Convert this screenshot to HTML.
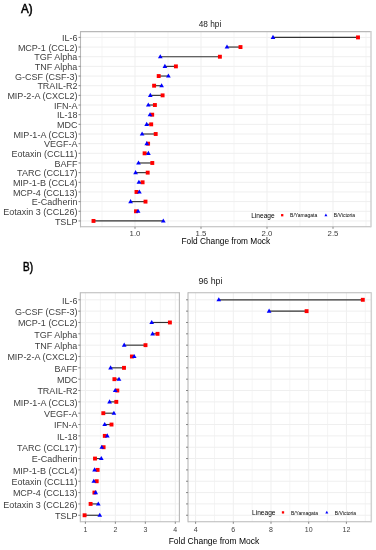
<!DOCTYPE html>
<html><head><meta charset="utf-8"><title>Fold change dumbbell chart</title><style>html,body{margin:0;padding:0;background:#fff;width:376px;height:550px;overflow:hidden}svg{filter:blur(0.35px)}svg text{font-family:"Liberation Sans", sans-serif}</style></head><body>
<svg width="376" height="550" viewBox="0 0 376 550" style='display:block;font-family:"Liberation Sans", sans-serif'>
<rect width="376" height="550" fill="#fff"/>
<text x="20.90" y="13.40" font-size="13.2" text-anchor="start" fill="#000" font-weight="normal" textLength="11.6" lengthAdjust="spacingAndGlyphs" stroke="#000" stroke-width="0.55">A)</text>
<text x="210.00" y="26.50" font-size="8.3" text-anchor="middle" fill="#1a1a1a" font-weight="normal" >48 hpi</text>
<rect x="80.5" y="31.6" width="290.5" height="195.20000000000002" fill="#fff"/>
<line x1="102.00" y1="31.60" x2="102.00" y2="226.80" stroke="#f3f3f3" stroke-width="0.8"/>
<line x1="168.00" y1="31.60" x2="168.00" y2="226.80" stroke="#f3f3f3" stroke-width="0.8"/>
<line x1="234.00" y1="31.60" x2="234.00" y2="226.80" stroke="#f3f3f3" stroke-width="0.8"/>
<line x1="300.00" y1="31.60" x2="300.00" y2="226.80" stroke="#f3f3f3" stroke-width="0.8"/>
<line x1="366.00" y1="31.60" x2="366.00" y2="226.80" stroke="#f3f3f3" stroke-width="0.8"/>
<line x1="135.00" y1="31.60" x2="135.00" y2="226.80" stroke="#efefef" stroke-width="1.0"/>
<line x1="201.00" y1="31.60" x2="201.00" y2="226.80" stroke="#efefef" stroke-width="1.0"/>
<line x1="267.00" y1="31.60" x2="267.00" y2="226.80" stroke="#efefef" stroke-width="1.0"/>
<line x1="333.00" y1="31.60" x2="333.00" y2="226.80" stroke="#efefef" stroke-width="1.0"/>
<line x1="80.50" y1="37.40" x2="371.00" y2="37.40" stroke="#efefef" stroke-width="1.0"/>
<line x1="80.50" y1="47.06" x2="371.00" y2="47.06" stroke="#efefef" stroke-width="1.0"/>
<line x1="80.50" y1="56.72" x2="371.00" y2="56.72" stroke="#efefef" stroke-width="1.0"/>
<line x1="80.50" y1="66.38" x2="371.00" y2="66.38" stroke="#efefef" stroke-width="1.0"/>
<line x1="80.50" y1="76.04" x2="371.00" y2="76.04" stroke="#efefef" stroke-width="1.0"/>
<line x1="80.50" y1="85.70" x2="371.00" y2="85.70" stroke="#efefef" stroke-width="1.0"/>
<line x1="80.50" y1="95.36" x2="371.00" y2="95.36" stroke="#efefef" stroke-width="1.0"/>
<line x1="80.50" y1="105.02" x2="371.00" y2="105.02" stroke="#efefef" stroke-width="1.0"/>
<line x1="80.50" y1="114.68" x2="371.00" y2="114.68" stroke="#efefef" stroke-width="1.0"/>
<line x1="80.50" y1="124.34" x2="371.00" y2="124.34" stroke="#efefef" stroke-width="1.0"/>
<line x1="80.50" y1="134.00" x2="371.00" y2="134.00" stroke="#efefef" stroke-width="1.0"/>
<line x1="80.50" y1="143.66" x2="371.00" y2="143.66" stroke="#efefef" stroke-width="1.0"/>
<line x1="80.50" y1="153.32" x2="371.00" y2="153.32" stroke="#efefef" stroke-width="1.0"/>
<line x1="80.50" y1="162.98" x2="371.00" y2="162.98" stroke="#efefef" stroke-width="1.0"/>
<line x1="80.50" y1="172.64" x2="371.00" y2="172.64" stroke="#efefef" stroke-width="1.0"/>
<line x1="80.50" y1="182.30" x2="371.00" y2="182.30" stroke="#efefef" stroke-width="1.0"/>
<line x1="80.50" y1="191.96" x2="371.00" y2="191.96" stroke="#efefef" stroke-width="1.0"/>
<line x1="80.50" y1="201.62" x2="371.00" y2="201.62" stroke="#efefef" stroke-width="1.0"/>
<line x1="80.50" y1="211.28" x2="371.00" y2="211.28" stroke="#efefef" stroke-width="1.0"/>
<line x1="80.50" y1="220.94" x2="371.00" y2="220.94" stroke="#efefef" stroke-width="1.0"/>
<line x1="80.50" y1="31.60" x2="371.00" y2="31.60" stroke="#b8b8b8" stroke-width="1.1"/>
<line x1="80.50" y1="226.80" x2="371.00" y2="226.80" stroke="#b8b8b8" stroke-width="1.1"/>
<line x1="80.50" y1="31.05" x2="80.50" y2="227.35" stroke="#b8b8b8" stroke-width="1.1"/>
<line x1="371.00" y1="31.05" x2="371.00" y2="227.35" stroke="#d2d2d2" stroke-width="1.5"/>
<line x1="78.50" y1="37.40" x2="80.50" y2="37.40" stroke="#7a7a7a" stroke-width="0.9"/>
<line x1="78.50" y1="47.06" x2="80.50" y2="47.06" stroke="#7a7a7a" stroke-width="0.9"/>
<line x1="78.50" y1="56.72" x2="80.50" y2="56.72" stroke="#7a7a7a" stroke-width="0.9"/>
<line x1="78.50" y1="66.38" x2="80.50" y2="66.38" stroke="#7a7a7a" stroke-width="0.9"/>
<line x1="78.50" y1="76.04" x2="80.50" y2="76.04" stroke="#7a7a7a" stroke-width="0.9"/>
<line x1="78.50" y1="85.70" x2="80.50" y2="85.70" stroke="#7a7a7a" stroke-width="0.9"/>
<line x1="78.50" y1="95.36" x2="80.50" y2="95.36" stroke="#7a7a7a" stroke-width="0.9"/>
<line x1="78.50" y1="105.02" x2="80.50" y2="105.02" stroke="#7a7a7a" stroke-width="0.9"/>
<line x1="78.50" y1="114.68" x2="80.50" y2="114.68" stroke="#7a7a7a" stroke-width="0.9"/>
<line x1="78.50" y1="124.34" x2="80.50" y2="124.34" stroke="#7a7a7a" stroke-width="0.9"/>
<line x1="78.50" y1="134.00" x2="80.50" y2="134.00" stroke="#7a7a7a" stroke-width="0.9"/>
<line x1="78.50" y1="143.66" x2="80.50" y2="143.66" stroke="#7a7a7a" stroke-width="0.9"/>
<line x1="78.50" y1="153.32" x2="80.50" y2="153.32" stroke="#7a7a7a" stroke-width="0.9"/>
<line x1="78.50" y1="162.98" x2="80.50" y2="162.98" stroke="#7a7a7a" stroke-width="0.9"/>
<line x1="78.50" y1="172.64" x2="80.50" y2="172.64" stroke="#7a7a7a" stroke-width="0.9"/>
<line x1="78.50" y1="182.30" x2="80.50" y2="182.30" stroke="#7a7a7a" stroke-width="0.9"/>
<line x1="78.50" y1="191.96" x2="80.50" y2="191.96" stroke="#7a7a7a" stroke-width="0.9"/>
<line x1="78.50" y1="201.62" x2="80.50" y2="201.62" stroke="#7a7a7a" stroke-width="0.9"/>
<line x1="78.50" y1="211.28" x2="80.50" y2="211.28" stroke="#7a7a7a" stroke-width="0.9"/>
<line x1="78.50" y1="220.94" x2="80.50" y2="220.94" stroke="#7a7a7a" stroke-width="0.9"/>
<line x1="135.00" y1="226.80" x2="135.00" y2="228.80" stroke="#7a7a7a" stroke-width="0.9"/>
<line x1="201.00" y1="226.80" x2="201.00" y2="228.80" stroke="#7a7a7a" stroke-width="0.9"/>
<line x1="267.00" y1="226.80" x2="267.00" y2="228.80" stroke="#7a7a7a" stroke-width="0.9"/>
<line x1="333.00" y1="226.80" x2="333.00" y2="228.80" stroke="#7a7a7a" stroke-width="0.9"/>
<text x="77.40" y="41.09" font-size="9.0" text-anchor="end" fill="#404040" font-weight="normal" >IL-6</text>
<text x="77.40" y="50.76" font-size="9.0" text-anchor="end" fill="#404040" font-weight="normal" >MCP-1 (CCL2)</text>
<text x="77.40" y="60.41" font-size="9.0" text-anchor="end" fill="#404040" font-weight="normal" >TGF Alpha</text>
<text x="77.40" y="70.07" font-size="9.0" text-anchor="end" fill="#404040" font-weight="normal" >TNF Alpha</text>
<text x="77.40" y="79.73" font-size="9.0" text-anchor="end" fill="#404040" font-weight="normal" >G-CSF (CSF-3)</text>
<text x="77.40" y="89.39" font-size="9.0" text-anchor="end" fill="#404040" font-weight="normal" >TRAIL-R2</text>
<text x="77.40" y="99.05" font-size="9.0" text-anchor="end" fill="#404040" font-weight="normal" >MIP-2-A (CXCL2)</text>
<text x="77.40" y="108.72" font-size="9.0" text-anchor="end" fill="#404040" font-weight="normal" >IFN-A</text>
<text x="77.40" y="118.38" font-size="9.0" text-anchor="end" fill="#404040" font-weight="normal" >IL-18</text>
<text x="77.40" y="128.03" font-size="9.0" text-anchor="end" fill="#404040" font-weight="normal" >MDC</text>
<text x="77.40" y="137.69" font-size="9.0" text-anchor="end" fill="#404040" font-weight="normal" >MIP-1-A (CCL3)</text>
<text x="77.40" y="147.35" font-size="9.0" text-anchor="end" fill="#404040" font-weight="normal" >VEGF-A</text>
<text x="77.40" y="157.01" font-size="9.0" text-anchor="end" fill="#404040" font-weight="normal" >Eotaxin (CCL11)</text>
<text x="77.40" y="166.67" font-size="9.0" text-anchor="end" fill="#404040" font-weight="normal" >BAFF</text>
<text x="77.40" y="176.34" font-size="9.0" text-anchor="end" fill="#404040" font-weight="normal" >TARC (CCL17)</text>
<text x="77.40" y="186.00" font-size="9.0" text-anchor="end" fill="#404040" font-weight="normal" >MIP-1-B (CCL4)</text>
<text x="77.40" y="195.66" font-size="9.0" text-anchor="end" fill="#404040" font-weight="normal" >MCP-4 (CCL13)</text>
<text x="77.40" y="205.31" font-size="9.0" text-anchor="end" fill="#404040" font-weight="normal" >E-Cadherin</text>
<text x="77.40" y="214.97" font-size="9.0" text-anchor="end" fill="#404040" font-weight="normal" >Eotaxin 3 (CCL26)</text>
<text x="77.40" y="224.63" font-size="9.0" text-anchor="end" fill="#404040" font-weight="normal" >TSLP</text>
<text x="135.00" y="235.60" font-size="7.8" text-anchor="middle" fill="#404040" font-weight="normal" >1.0</text>
<text x="201.00" y="235.60" font-size="7.8" text-anchor="middle" fill="#404040" font-weight="normal" >1.5</text>
<text x="267.00" y="235.60" font-size="7.8" text-anchor="middle" fill="#404040" font-weight="normal" >2.0</text>
<text x="333.00" y="235.60" font-size="7.8" text-anchor="middle" fill="#404040" font-weight="normal" >2.5</text>
<line x1="273.00" y1="37.40" x2="358.00" y2="37.40" stroke="#333333" stroke-width="1.15"/>
<line x1="227.00" y1="47.06" x2="240.50" y2="47.06" stroke="#333333" stroke-width="1.15"/>
<line x1="160.30" y1="56.72" x2="219.90" y2="56.72" stroke="#333333" stroke-width="1.15"/>
<line x1="164.90" y1="66.38" x2="175.90" y2="66.38" stroke="#333333" stroke-width="1.15"/>
<line x1="158.70" y1="76.04" x2="168.40" y2="76.04" stroke="#333333" stroke-width="1.15"/>
<line x1="154.10" y1="85.70" x2="161.60" y2="85.70" stroke="#333333" stroke-width="1.15"/>
<line x1="150.30" y1="95.36" x2="162.60" y2="95.36" stroke="#333333" stroke-width="1.15"/>
<line x1="148.30" y1="105.02" x2="154.90" y2="105.02" stroke="#333333" stroke-width="1.15"/>
<line x1="150.00" y1="114.68" x2="152.20" y2="114.68" stroke="#333333" stroke-width="1.15"/>
<line x1="146.70" y1="124.34" x2="151.20" y2="124.34" stroke="#333333" stroke-width="1.15"/>
<line x1="142.10" y1="134.00" x2="155.70" y2="134.00" stroke="#333333" stroke-width="1.15"/>
<line x1="146.80" y1="143.66" x2="148.10" y2="143.66" stroke="#333333" stroke-width="1.15"/>
<line x1="144.60" y1="153.32" x2="148.40" y2="153.32" stroke="#333333" stroke-width="1.15"/>
<line x1="138.50" y1="162.98" x2="152.30" y2="162.98" stroke="#333333" stroke-width="1.15"/>
<line x1="135.60" y1="172.64" x2="147.70" y2="172.64" stroke="#333333" stroke-width="1.15"/>
<line x1="138.90" y1="182.30" x2="142.60" y2="182.30" stroke="#333333" stroke-width="1.15"/>
<line x1="136.50" y1="191.96" x2="139.40" y2="191.96" stroke="#333333" stroke-width="1.15"/>
<line x1="130.60" y1="201.62" x2="145.50" y2="201.62" stroke="#333333" stroke-width="1.15"/>
<line x1="136.00" y1="211.28" x2="138.10" y2="211.28" stroke="#333333" stroke-width="1.15"/>
<line x1="93.50" y1="220.94" x2="163.30" y2="220.94" stroke="#333333" stroke-width="1.15"/>
<rect x="356.05" y="35.45" width="3.90" height="3.90" fill="#ff0000"/>
<path d="M273.00 34.86L275.35 38.96L270.65 38.96Z" fill="#0000ff"/>
<rect x="238.55" y="45.11" width="3.90" height="3.90" fill="#ff0000"/>
<path d="M227.00 44.52L229.35 48.62L224.65 48.62Z" fill="#0000ff"/>
<rect x="217.95" y="54.77" width="3.90" height="3.90" fill="#ff0000"/>
<path d="M160.30 54.18L162.65 58.28L157.95 58.28Z" fill="#0000ff"/>
<rect x="173.95" y="64.43" width="3.90" height="3.90" fill="#ff0000"/>
<path d="M164.90 63.84L167.25 67.94L162.55 67.94Z" fill="#0000ff"/>
<rect x="156.75" y="74.09" width="3.90" height="3.90" fill="#ff0000"/>
<path d="M168.40 73.50L170.75 77.60L166.05 77.60Z" fill="#0000ff"/>
<rect x="152.15" y="83.75" width="3.90" height="3.90" fill="#ff0000"/>
<path d="M161.60 83.16L163.95 87.26L159.25 87.26Z" fill="#0000ff"/>
<rect x="160.65" y="93.41" width="3.90" height="3.90" fill="#ff0000"/>
<path d="M150.30 92.82L152.65 96.92L147.95 96.92Z" fill="#0000ff"/>
<rect x="152.95" y="103.07" width="3.90" height="3.90" fill="#ff0000"/>
<path d="M148.30 102.48L150.65 106.58L145.95 106.58Z" fill="#0000ff"/>
<rect x="150.25" y="112.73" width="3.90" height="3.90" fill="#ff0000"/>
<path d="M150.00 112.14L152.35 116.24L147.65 116.24Z" fill="#0000ff"/>
<rect x="149.25" y="122.39" width="3.90" height="3.90" fill="#ff0000"/>
<path d="M146.70 121.80L149.05 125.90L144.35 125.90Z" fill="#0000ff"/>
<rect x="153.75" y="132.05" width="3.90" height="3.90" fill="#ff0000"/>
<path d="M142.10 131.46L144.45 135.56L139.75 135.56Z" fill="#0000ff"/>
<rect x="146.15" y="141.71" width="3.90" height="3.90" fill="#ff0000"/>
<path d="M146.80 141.12L149.15 145.22L144.45 145.22Z" fill="#0000ff"/>
<rect x="142.65" y="151.37" width="3.90" height="3.90" fill="#ff0000"/>
<path d="M148.40 150.78L150.75 154.88L146.05 154.88Z" fill="#0000ff"/>
<rect x="150.35" y="161.03" width="3.90" height="3.90" fill="#ff0000"/>
<path d="M138.50 160.44L140.85 164.54L136.15 164.54Z" fill="#0000ff"/>
<rect x="145.75" y="170.69" width="3.90" height="3.90" fill="#ff0000"/>
<path d="M135.60 170.10L137.95 174.20L133.25 174.20Z" fill="#0000ff"/>
<rect x="140.65" y="180.35" width="3.90" height="3.90" fill="#ff0000"/>
<path d="M138.90 179.76L141.25 183.86L136.55 183.86Z" fill="#0000ff"/>
<rect x="134.55" y="190.01" width="3.90" height="3.90" fill="#ff0000"/>
<path d="M139.40 189.42L141.75 193.52L137.05 193.52Z" fill="#0000ff"/>
<rect x="143.55" y="199.67" width="3.90" height="3.90" fill="#ff0000"/>
<path d="M130.60 199.08L132.95 203.18L128.25 203.18Z" fill="#0000ff"/>
<rect x="134.05" y="209.33" width="3.90" height="3.90" fill="#ff0000"/>
<path d="M138.10 208.74L140.45 212.84L135.75 212.84Z" fill="#0000ff"/>
<rect x="91.55" y="218.99" width="3.90" height="3.90" fill="#ff0000"/>
<path d="M163.30 218.40L165.65 222.50L160.95 222.50Z" fill="#0000ff"/>
<text x="225.80" y="244.10" font-size="8.3" text-anchor="middle" fill="#000" font-weight="normal" >Fold Change from Mock</text>
<text x="251.20" y="217.50" font-size="6.6" text-anchor="start" fill="#000" font-weight="normal" >Lineage</text>
<rect x="281.05" y="214.05" width="2.30" height="2.30" fill="#ff0000"/>
<text x="290.10" y="217.00" font-size="5.0" text-anchor="start" fill="#000" font-weight="normal" >B/Yamagata</text>
<path d="M325.90 213.59L327.40 216.19L324.40 216.19Z" fill="#0000ff"/>
<text x="333.80" y="217.00" font-size="5.0" text-anchor="start" fill="#000" font-weight="normal" >B/Victoria</text>
<text x="23.00" y="271.20" font-size="12.8" text-anchor="start" fill="#000" font-weight="normal" textLength="10.0" lengthAdjust="spacingAndGlyphs" stroke="#000" stroke-width="0.55">B)</text>
<text x="210.40" y="283.60" font-size="8.8" text-anchor="middle" fill="#1a1a1a" font-weight="normal" >96 hpi</text>
<rect x="80.3" y="292.8" width="99.10000000000001" height="228.99999999999994" fill="#fff"/>
<line x1="100.39" y1="292.80" x2="100.39" y2="521.80" stroke="#f3f3f3" stroke-width="0.8"/>
<line x1="130.36" y1="292.80" x2="130.36" y2="521.80" stroke="#f3f3f3" stroke-width="0.8"/>
<line x1="160.32" y1="292.80" x2="160.32" y2="521.80" stroke="#f3f3f3" stroke-width="0.8"/>
<line x1="85.40" y1="292.80" x2="85.40" y2="521.80" stroke="#efefef" stroke-width="1.0"/>
<line x1="115.37" y1="292.80" x2="115.37" y2="521.80" stroke="#efefef" stroke-width="1.0"/>
<line x1="145.34" y1="292.80" x2="145.34" y2="521.80" stroke="#efefef" stroke-width="1.0"/>
<line x1="175.31" y1="292.80" x2="175.31" y2="521.80" stroke="#efefef" stroke-width="1.0"/>
<line x1="80.30" y1="299.80" x2="179.40" y2="299.80" stroke="#efefef" stroke-width="1.0"/>
<line x1="80.30" y1="311.14" x2="179.40" y2="311.14" stroke="#efefef" stroke-width="1.0"/>
<line x1="80.30" y1="322.48" x2="179.40" y2="322.48" stroke="#efefef" stroke-width="1.0"/>
<line x1="80.30" y1="333.82" x2="179.40" y2="333.82" stroke="#efefef" stroke-width="1.0"/>
<line x1="80.30" y1="345.16" x2="179.40" y2="345.16" stroke="#efefef" stroke-width="1.0"/>
<line x1="80.30" y1="356.50" x2="179.40" y2="356.50" stroke="#efefef" stroke-width="1.0"/>
<line x1="80.30" y1="367.84" x2="179.40" y2="367.84" stroke="#efefef" stroke-width="1.0"/>
<line x1="80.30" y1="379.18" x2="179.40" y2="379.18" stroke="#efefef" stroke-width="1.0"/>
<line x1="80.30" y1="390.52" x2="179.40" y2="390.52" stroke="#efefef" stroke-width="1.0"/>
<line x1="80.30" y1="401.86" x2="179.40" y2="401.86" stroke="#efefef" stroke-width="1.0"/>
<line x1="80.30" y1="413.20" x2="179.40" y2="413.20" stroke="#efefef" stroke-width="1.0"/>
<line x1="80.30" y1="424.54" x2="179.40" y2="424.54" stroke="#efefef" stroke-width="1.0"/>
<line x1="80.30" y1="435.88" x2="179.40" y2="435.88" stroke="#efefef" stroke-width="1.0"/>
<line x1="80.30" y1="447.22" x2="179.40" y2="447.22" stroke="#efefef" stroke-width="1.0"/>
<line x1="80.30" y1="458.56" x2="179.40" y2="458.56" stroke="#efefef" stroke-width="1.0"/>
<line x1="80.30" y1="469.90" x2="179.40" y2="469.90" stroke="#efefef" stroke-width="1.0"/>
<line x1="80.30" y1="481.24" x2="179.40" y2="481.24" stroke="#efefef" stroke-width="1.0"/>
<line x1="80.30" y1="492.58" x2="179.40" y2="492.58" stroke="#efefef" stroke-width="1.0"/>
<line x1="80.30" y1="503.92" x2="179.40" y2="503.92" stroke="#efefef" stroke-width="1.0"/>
<line x1="80.30" y1="515.26" x2="179.40" y2="515.26" stroke="#efefef" stroke-width="1.0"/>
<line x1="80.30" y1="292.80" x2="179.40" y2="292.80" stroke="#b8b8b8" stroke-width="1.1"/>
<line x1="80.30" y1="521.80" x2="179.40" y2="521.80" stroke="#b8b8b8" stroke-width="1.1"/>
<line x1="80.30" y1="292.25" x2="80.30" y2="522.35" stroke="#b8b8b8" stroke-width="1.1"/>
<line x1="179.40" y1="292.25" x2="179.40" y2="522.35" stroke="#b8b8b8" stroke-width="1.1"/>
<line x1="78.30" y1="299.80" x2="80.30" y2="299.80" stroke="#7a7a7a" stroke-width="0.9"/>
<line x1="78.30" y1="311.14" x2="80.30" y2="311.14" stroke="#7a7a7a" stroke-width="0.9"/>
<line x1="78.30" y1="322.48" x2="80.30" y2="322.48" stroke="#7a7a7a" stroke-width="0.9"/>
<line x1="78.30" y1="333.82" x2="80.30" y2="333.82" stroke="#7a7a7a" stroke-width="0.9"/>
<line x1="78.30" y1="345.16" x2="80.30" y2="345.16" stroke="#7a7a7a" stroke-width="0.9"/>
<line x1="78.30" y1="356.50" x2="80.30" y2="356.50" stroke="#7a7a7a" stroke-width="0.9"/>
<line x1="78.30" y1="367.84" x2="80.30" y2="367.84" stroke="#7a7a7a" stroke-width="0.9"/>
<line x1="78.30" y1="379.18" x2="80.30" y2="379.18" stroke="#7a7a7a" stroke-width="0.9"/>
<line x1="78.30" y1="390.52" x2="80.30" y2="390.52" stroke="#7a7a7a" stroke-width="0.9"/>
<line x1="78.30" y1="401.86" x2="80.30" y2="401.86" stroke="#7a7a7a" stroke-width="0.9"/>
<line x1="78.30" y1="413.20" x2="80.30" y2="413.20" stroke="#7a7a7a" stroke-width="0.9"/>
<line x1="78.30" y1="424.54" x2="80.30" y2="424.54" stroke="#7a7a7a" stroke-width="0.9"/>
<line x1="78.30" y1="435.88" x2="80.30" y2="435.88" stroke="#7a7a7a" stroke-width="0.9"/>
<line x1="78.30" y1="447.22" x2="80.30" y2="447.22" stroke="#7a7a7a" stroke-width="0.9"/>
<line x1="78.30" y1="458.56" x2="80.30" y2="458.56" stroke="#7a7a7a" stroke-width="0.9"/>
<line x1="78.30" y1="469.90" x2="80.30" y2="469.90" stroke="#7a7a7a" stroke-width="0.9"/>
<line x1="78.30" y1="481.24" x2="80.30" y2="481.24" stroke="#7a7a7a" stroke-width="0.9"/>
<line x1="78.30" y1="492.58" x2="80.30" y2="492.58" stroke="#7a7a7a" stroke-width="0.9"/>
<line x1="78.30" y1="503.92" x2="80.30" y2="503.92" stroke="#7a7a7a" stroke-width="0.9"/>
<line x1="78.30" y1="515.26" x2="80.30" y2="515.26" stroke="#7a7a7a" stroke-width="0.9"/>
<line x1="85.40" y1="521.80" x2="85.40" y2="523.80" stroke="#7a7a7a" stroke-width="0.9"/>
<line x1="115.37" y1="521.80" x2="115.37" y2="523.80" stroke="#7a7a7a" stroke-width="0.9"/>
<line x1="145.34" y1="521.80" x2="145.34" y2="523.80" stroke="#7a7a7a" stroke-width="0.9"/>
<line x1="175.31" y1="521.80" x2="175.31" y2="523.80" stroke="#7a7a7a" stroke-width="0.9"/>
<text x="77.40" y="303.50" font-size="9.0" text-anchor="end" fill="#404040" font-weight="normal" >IL-6</text>
<text x="77.40" y="314.83" font-size="9.0" text-anchor="end" fill="#404040" font-weight="normal" >G-CSF (CSF-3)</text>
<text x="77.40" y="326.18" font-size="9.0" text-anchor="end" fill="#404040" font-weight="normal" >MCP-1 (CCL2)</text>
<text x="77.40" y="337.51" font-size="9.0" text-anchor="end" fill="#404040" font-weight="normal" >TGF Alpha</text>
<text x="77.40" y="348.86" font-size="9.0" text-anchor="end" fill="#404040" font-weight="normal" >TNF Alpha</text>
<text x="77.40" y="360.19" font-size="9.0" text-anchor="end" fill="#404040" font-weight="normal" >MIP-2-A (CXCL2)</text>
<text x="77.40" y="371.54" font-size="9.0" text-anchor="end" fill="#404040" font-weight="normal" >BAFF</text>
<text x="77.40" y="382.88" font-size="9.0" text-anchor="end" fill="#404040" font-weight="normal" >MDC</text>
<text x="77.40" y="394.21" font-size="9.0" text-anchor="end" fill="#404040" font-weight="normal" >TRAIL-R2</text>
<text x="77.40" y="405.56" font-size="9.0" text-anchor="end" fill="#404040" font-weight="normal" >MIP-1-A (CCL3)</text>
<text x="77.40" y="416.90" font-size="9.0" text-anchor="end" fill="#404040" font-weight="normal" >VEGF-A</text>
<text x="77.40" y="428.24" font-size="9.0" text-anchor="end" fill="#404040" font-weight="normal" >IFN-A</text>
<text x="77.40" y="439.57" font-size="9.0" text-anchor="end" fill="#404040" font-weight="normal" >IL-18</text>
<text x="77.40" y="450.92" font-size="9.0" text-anchor="end" fill="#404040" font-weight="normal" >TARC (CCL17)</text>
<text x="77.40" y="462.25" font-size="9.0" text-anchor="end" fill="#404040" font-weight="normal" >E-Cadherin</text>
<text x="77.40" y="473.59" font-size="9.0" text-anchor="end" fill="#404040" font-weight="normal" >MIP-1-B (CCL4)</text>
<text x="77.40" y="484.94" font-size="9.0" text-anchor="end" fill="#404040" font-weight="normal" >Eotaxin (CCL11)</text>
<text x="77.40" y="496.28" font-size="9.0" text-anchor="end" fill="#404040" font-weight="normal" >MCP-4 (CCL13)</text>
<text x="77.40" y="507.62" font-size="9.0" text-anchor="end" fill="#404040" font-weight="normal" >Eotaxin 3 (CCL26)</text>
<text x="77.40" y="518.96" font-size="9.0" text-anchor="end" fill="#404040" font-weight="normal" >TSLP</text>
<text x="85.40" y="531.60" font-size="7.0" text-anchor="middle" fill="#404040" font-weight="normal" >1</text>
<text x="115.37" y="531.60" font-size="7.0" text-anchor="middle" fill="#404040" font-weight="normal" >2</text>
<text x="145.34" y="531.60" font-size="7.0" text-anchor="middle" fill="#404040" font-weight="normal" >3</text>
<text x="175.31" y="531.60" font-size="7.0" text-anchor="middle" fill="#404040" font-weight="normal" >4</text>
<line x1="151.70" y1="322.48" x2="169.90" y2="322.48" stroke="#333333" stroke-width="1.15"/>
<line x1="152.60" y1="333.82" x2="157.50" y2="333.82" stroke="#333333" stroke-width="1.15"/>
<line x1="124.20" y1="345.16" x2="145.50" y2="345.16" stroke="#333333" stroke-width="1.15"/>
<line x1="131.90" y1="356.50" x2="134.20" y2="356.50" stroke="#333333" stroke-width="1.15"/>
<line x1="110.60" y1="367.84" x2="124.00" y2="367.84" stroke="#333333" stroke-width="1.15"/>
<line x1="114.40" y1="379.18" x2="119.00" y2="379.18" stroke="#333333" stroke-width="1.15"/>
<line x1="115.20" y1="390.52" x2="117.30" y2="390.52" stroke="#333333" stroke-width="1.15"/>
<line x1="109.60" y1="401.86" x2="116.30" y2="401.86" stroke="#333333" stroke-width="1.15"/>
<line x1="103.30" y1="413.20" x2="113.90" y2="413.20" stroke="#333333" stroke-width="1.15"/>
<line x1="104.70" y1="424.54" x2="111.50" y2="424.54" stroke="#333333" stroke-width="1.15"/>
<line x1="104.80" y1="435.88" x2="107.30" y2="435.88" stroke="#333333" stroke-width="1.15"/>
<line x1="101.80" y1="447.22" x2="103.60" y2="447.22" stroke="#333333" stroke-width="1.15"/>
<line x1="95.00" y1="458.56" x2="101.30" y2="458.56" stroke="#333333" stroke-width="1.15"/>
<line x1="94.60" y1="469.90" x2="97.60" y2="469.90" stroke="#333333" stroke-width="1.15"/>
<line x1="93.80" y1="481.24" x2="96.70" y2="481.24" stroke="#333333" stroke-width="1.15"/>
<line x1="94.40" y1="492.58" x2="95.70" y2="492.58" stroke="#333333" stroke-width="1.15"/>
<line x1="90.60" y1="503.92" x2="98.30" y2="503.92" stroke="#333333" stroke-width="1.15"/>
<line x1="84.60" y1="515.26" x2="99.80" y2="515.26" stroke="#333333" stroke-width="1.15"/>
<rect x="167.95" y="320.53" width="3.90" height="3.90" fill="#ff0000"/>
<path d="M151.70 319.94L154.05 324.04L149.35 324.04Z" fill="#0000ff"/>
<rect x="155.55" y="331.87" width="3.90" height="3.90" fill="#ff0000"/>
<path d="M152.60 331.28L154.95 335.38L150.25 335.38Z" fill="#0000ff"/>
<rect x="143.55" y="343.21" width="3.90" height="3.90" fill="#ff0000"/>
<path d="M124.20 342.62L126.55 346.72L121.85 346.72Z" fill="#0000ff"/>
<rect x="129.95" y="354.55" width="3.90" height="3.90" fill="#ff0000"/>
<path d="M134.20 353.96L136.55 358.06L131.85 358.06Z" fill="#0000ff"/>
<rect x="122.05" y="365.89" width="3.90" height="3.90" fill="#ff0000"/>
<path d="M110.60 365.30L112.95 369.40L108.25 369.40Z" fill="#0000ff"/>
<rect x="112.45" y="377.23" width="3.90" height="3.90" fill="#ff0000"/>
<path d="M119.00 376.64L121.35 380.74L116.65 380.74Z" fill="#0000ff"/>
<rect x="115.35" y="388.57" width="3.90" height="3.90" fill="#ff0000"/>
<path d="M115.20 387.98L117.55 392.08L112.85 392.08Z" fill="#0000ff"/>
<rect x="114.35" y="399.91" width="3.90" height="3.90" fill="#ff0000"/>
<path d="M109.60 399.32L111.95 403.42L107.25 403.42Z" fill="#0000ff"/>
<rect x="101.35" y="411.25" width="3.90" height="3.90" fill="#ff0000"/>
<path d="M113.90 410.66L116.25 414.76L111.55 414.76Z" fill="#0000ff"/>
<rect x="109.55" y="422.59" width="3.90" height="3.90" fill="#ff0000"/>
<path d="M104.70 422.00L107.05 426.10L102.35 426.10Z" fill="#0000ff"/>
<rect x="102.85" y="433.93" width="3.90" height="3.90" fill="#ff0000"/>
<path d="M107.30 433.34L109.65 437.44L104.95 437.44Z" fill="#0000ff"/>
<rect x="101.65" y="445.27" width="3.90" height="3.90" fill="#ff0000"/>
<path d="M101.80 444.68L104.15 448.78L99.45 448.78Z" fill="#0000ff"/>
<rect x="93.05" y="456.61" width="3.90" height="3.90" fill="#ff0000"/>
<path d="M101.30 456.02L103.65 460.12L98.95 460.12Z" fill="#0000ff"/>
<rect x="95.65" y="467.95" width="3.90" height="3.90" fill="#ff0000"/>
<path d="M94.60 467.36L96.95 471.46L92.25 471.46Z" fill="#0000ff"/>
<rect x="94.75" y="479.29" width="3.90" height="3.90" fill="#ff0000"/>
<path d="M93.80 478.70L96.15 482.80L91.45 482.80Z" fill="#0000ff"/>
<rect x="92.45" y="490.63" width="3.90" height="3.90" fill="#ff0000"/>
<path d="M95.70 490.04L98.05 494.14L93.35 494.14Z" fill="#0000ff"/>
<rect x="88.65" y="501.97" width="3.90" height="3.90" fill="#ff0000"/>
<path d="M98.30 501.38L100.65 505.48L95.95 505.48Z" fill="#0000ff"/>
<rect x="82.65" y="513.31" width="3.90" height="3.90" fill="#ff0000"/>
<path d="M99.80 512.72L102.15 516.82L97.45 516.82Z" fill="#0000ff"/>
<rect x="188.0" y="292.8" width="183.3" height="228.99999999999994" fill="#fff"/>
<line x1="214.45" y1="292.80" x2="214.45" y2="521.80" stroke="#f3f3f3" stroke-width="0.8"/>
<line x1="252.15" y1="292.80" x2="252.15" y2="521.80" stroke="#f3f3f3" stroke-width="0.8"/>
<line x1="289.85" y1="292.80" x2="289.85" y2="521.80" stroke="#f3f3f3" stroke-width="0.8"/>
<line x1="327.55" y1="292.80" x2="327.55" y2="521.80" stroke="#f3f3f3" stroke-width="0.8"/>
<line x1="365.25" y1="292.80" x2="365.25" y2="521.80" stroke="#f3f3f3" stroke-width="0.8"/>
<line x1="195.60" y1="292.80" x2="195.60" y2="521.80" stroke="#efefef" stroke-width="1.0"/>
<line x1="233.30" y1="292.80" x2="233.30" y2="521.80" stroke="#efefef" stroke-width="1.0"/>
<line x1="271.00" y1="292.80" x2="271.00" y2="521.80" stroke="#efefef" stroke-width="1.0"/>
<line x1="308.70" y1="292.80" x2="308.70" y2="521.80" stroke="#efefef" stroke-width="1.0"/>
<line x1="346.40" y1="292.80" x2="346.40" y2="521.80" stroke="#efefef" stroke-width="1.0"/>
<line x1="188.00" y1="299.80" x2="371.30" y2="299.80" stroke="#efefef" stroke-width="1.0"/>
<line x1="188.00" y1="311.14" x2="371.30" y2="311.14" stroke="#efefef" stroke-width="1.0"/>
<line x1="188.00" y1="322.48" x2="371.30" y2="322.48" stroke="#efefef" stroke-width="1.0"/>
<line x1="188.00" y1="333.82" x2="371.30" y2="333.82" stroke="#efefef" stroke-width="1.0"/>
<line x1="188.00" y1="345.16" x2="371.30" y2="345.16" stroke="#efefef" stroke-width="1.0"/>
<line x1="188.00" y1="356.50" x2="371.30" y2="356.50" stroke="#efefef" stroke-width="1.0"/>
<line x1="188.00" y1="367.84" x2="371.30" y2="367.84" stroke="#efefef" stroke-width="1.0"/>
<line x1="188.00" y1="379.18" x2="371.30" y2="379.18" stroke="#efefef" stroke-width="1.0"/>
<line x1="188.00" y1="390.52" x2="371.30" y2="390.52" stroke="#efefef" stroke-width="1.0"/>
<line x1="188.00" y1="401.86" x2="371.30" y2="401.86" stroke="#efefef" stroke-width="1.0"/>
<line x1="188.00" y1="413.20" x2="371.30" y2="413.20" stroke="#efefef" stroke-width="1.0"/>
<line x1="188.00" y1="424.54" x2="371.30" y2="424.54" stroke="#efefef" stroke-width="1.0"/>
<line x1="188.00" y1="435.88" x2="371.30" y2="435.88" stroke="#efefef" stroke-width="1.0"/>
<line x1="188.00" y1="447.22" x2="371.30" y2="447.22" stroke="#efefef" stroke-width="1.0"/>
<line x1="188.00" y1="458.56" x2="371.30" y2="458.56" stroke="#efefef" stroke-width="1.0"/>
<line x1="188.00" y1="469.90" x2="371.30" y2="469.90" stroke="#efefef" stroke-width="1.0"/>
<line x1="188.00" y1="481.24" x2="371.30" y2="481.24" stroke="#efefef" stroke-width="1.0"/>
<line x1="188.00" y1="492.58" x2="371.30" y2="492.58" stroke="#efefef" stroke-width="1.0"/>
<line x1="188.00" y1="503.92" x2="371.30" y2="503.92" stroke="#efefef" stroke-width="1.0"/>
<line x1="188.00" y1="515.26" x2="371.30" y2="515.26" stroke="#efefef" stroke-width="1.0"/>
<line x1="188.00" y1="292.80" x2="371.30" y2="292.80" stroke="#b8b8b8" stroke-width="1.1"/>
<line x1="188.00" y1="521.80" x2="371.30" y2="521.80" stroke="#b8b8b8" stroke-width="1.1"/>
<line x1="188.00" y1="292.25" x2="188.00" y2="522.35" stroke="#b8b8b8" stroke-width="1.1"/>
<line x1="371.30" y1="292.25" x2="371.30" y2="522.35" stroke="#d2d2d2" stroke-width="1.5"/>
<line x1="186.00" y1="299.80" x2="188.00" y2="299.80" stroke="#7a7a7a" stroke-width="0.9"/>
<line x1="186.00" y1="311.14" x2="188.00" y2="311.14" stroke="#7a7a7a" stroke-width="0.9"/>
<line x1="186.00" y1="322.48" x2="188.00" y2="322.48" stroke="#7a7a7a" stroke-width="0.9"/>
<line x1="186.00" y1="333.82" x2="188.00" y2="333.82" stroke="#7a7a7a" stroke-width="0.9"/>
<line x1="186.00" y1="345.16" x2="188.00" y2="345.16" stroke="#7a7a7a" stroke-width="0.9"/>
<line x1="186.00" y1="356.50" x2="188.00" y2="356.50" stroke="#7a7a7a" stroke-width="0.9"/>
<line x1="186.00" y1="367.84" x2="188.00" y2="367.84" stroke="#7a7a7a" stroke-width="0.9"/>
<line x1="186.00" y1="379.18" x2="188.00" y2="379.18" stroke="#7a7a7a" stroke-width="0.9"/>
<line x1="186.00" y1="390.52" x2="188.00" y2="390.52" stroke="#7a7a7a" stroke-width="0.9"/>
<line x1="186.00" y1="401.86" x2="188.00" y2="401.86" stroke="#7a7a7a" stroke-width="0.9"/>
<line x1="186.00" y1="413.20" x2="188.00" y2="413.20" stroke="#7a7a7a" stroke-width="0.9"/>
<line x1="186.00" y1="424.54" x2="188.00" y2="424.54" stroke="#7a7a7a" stroke-width="0.9"/>
<line x1="186.00" y1="435.88" x2="188.00" y2="435.88" stroke="#7a7a7a" stroke-width="0.9"/>
<line x1="186.00" y1="447.22" x2="188.00" y2="447.22" stroke="#7a7a7a" stroke-width="0.9"/>
<line x1="186.00" y1="458.56" x2="188.00" y2="458.56" stroke="#7a7a7a" stroke-width="0.9"/>
<line x1="186.00" y1="469.90" x2="188.00" y2="469.90" stroke="#7a7a7a" stroke-width="0.9"/>
<line x1="186.00" y1="481.24" x2="188.00" y2="481.24" stroke="#7a7a7a" stroke-width="0.9"/>
<line x1="186.00" y1="492.58" x2="188.00" y2="492.58" stroke="#7a7a7a" stroke-width="0.9"/>
<line x1="186.00" y1="503.92" x2="188.00" y2="503.92" stroke="#7a7a7a" stroke-width="0.9"/>
<line x1="186.00" y1="515.26" x2="188.00" y2="515.26" stroke="#7a7a7a" stroke-width="0.9"/>
<line x1="195.60" y1="521.80" x2="195.60" y2="523.80" stroke="#7a7a7a" stroke-width="0.9"/>
<line x1="233.30" y1="521.80" x2="233.30" y2="523.80" stroke="#7a7a7a" stroke-width="0.9"/>
<line x1="271.00" y1="521.80" x2="271.00" y2="523.80" stroke="#7a7a7a" stroke-width="0.9"/>
<line x1="308.70" y1="521.80" x2="308.70" y2="523.80" stroke="#7a7a7a" stroke-width="0.9"/>
<line x1="346.40" y1="521.80" x2="346.40" y2="523.80" stroke="#7a7a7a" stroke-width="0.9"/>
<text x="195.60" y="531.60" font-size="7.0" text-anchor="middle" fill="#404040" font-weight="normal" >4</text>
<text x="233.30" y="531.60" font-size="7.0" text-anchor="middle" fill="#404040" font-weight="normal" >6</text>
<text x="271.00" y="531.60" font-size="7.0" text-anchor="middle" fill="#404040" font-weight="normal" >8</text>
<text x="308.70" y="531.60" font-size="7.0" text-anchor="middle" fill="#404040" font-weight="normal" >10</text>
<text x="346.40" y="531.60" font-size="7.0" text-anchor="middle" fill="#404040" font-weight="normal" >12</text>
<line x1="218.80" y1="299.80" x2="362.80" y2="299.80" stroke="#333333" stroke-width="1.15"/>
<line x1="269.10" y1="311.14" x2="306.60" y2="311.14" stroke="#333333" stroke-width="1.15"/>
<rect x="360.85" y="297.85" width="3.90" height="3.90" fill="#ff0000"/>
<path d="M218.80 297.26L221.15 301.36L216.45 301.36Z" fill="#0000ff"/>
<rect x="304.65" y="309.19" width="3.90" height="3.90" fill="#ff0000"/>
<path d="M269.10 308.60L271.45 312.70L266.75 312.70Z" fill="#0000ff"/>
<text x="214.00" y="544.00" font-size="8.5" text-anchor="middle" fill="#000" font-weight="normal" >Fold Change from Mock</text>
<text x="252.00" y="515.00" font-size="6.6" text-anchor="start" fill="#000" font-weight="normal" >Lineage</text>
<rect x="281.85" y="511.25" width="2.30" height="2.30" fill="#ff0000"/>
<text x="290.90" y="514.50" font-size="5.0" text-anchor="start" fill="#000" font-weight="normal" >B/Yamagata</text>
<path d="M326.80 510.79L328.30 513.39L325.30 513.39Z" fill="#0000ff"/>
<text x="334.80" y="514.50" font-size="5.0" text-anchor="start" fill="#000" font-weight="normal" >B/Victoria</text>
</svg>
</body></html>
